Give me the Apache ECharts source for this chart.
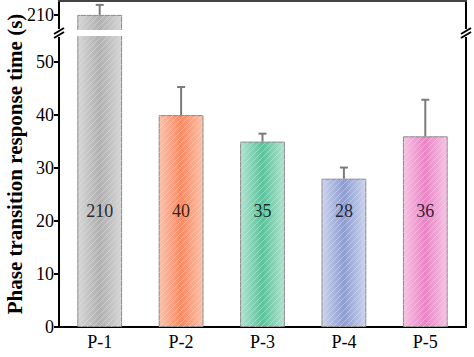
<!DOCTYPE html>
<html><head><meta charset="utf-8">
<script src="https://cdn.jsdelivr.net/npm/echarts@6/dist/echarts.min.js"></script>
<style>html,body{margin:0;padding:0;background:#fff}#c{width:474px;height:357px}</style>
</head><body><div id="c"></div>
<script>
// ---- data ----
const categories = ['P-1', 'P-2', 'P-3', 'P-4', 'P-5'];
const values = [210, 40, 35, 28, 36];
const errors = [3.6, 5.3, 1.5, 2.1, 6.9];
const valueLabels = ['210', '40', '35', '28', '36'];
const lowerTicks = [0, 10, 20, 30, 40, 50];
const upperTicks = [210];
const lowerRange = [0, 55.5];
const upperRange = [203.5, 215];
const labelLevel = 21.9;
const edgeColors = ['#d6d6d6', '#f9c2ab', '#b2e2d0', '#ccd3ec', '#f4c4e3'];
const centerColors = ['#b0b0b0', '#f98a62', '#5cc29c', '#8e9dd0', '#e985c6'];

const FONT = "'Liberation Serif', 'Times New Roman', serif";
const chart = echarts.init(document.getElementById('c'), null, {renderer: 'svg'});

// hatch tile: "/" lines
const tile = document.createElement('canvas');
tile.width = 6; tile.height = 6;
(function () {
  const g = tile.getContext('2d');
  g.strokeStyle = 'rgba(225,225,225,0.5)';
  g.lineWidth = 1;
  g.beginPath();
  g.moveTo(-1, 7); g.lineTo(7, -1);
  g.moveTo(-4, 4); g.lineTo(4, -4);
  g.moveTo(2, 10); g.lineTo(10, 2);
  g.stroke();
})();
const hatchFill = {image: tile, repeat: 'repeat'};

function barItems(filterFn) {
  return values.map((v, i) => filterFn(v) ? {
    value: v,
    itemStyle: {
      color: new echarts.graphic.LinearGradient(0, 0, 1, 0, [
        {offset: 0, color: edgeColors[i]},
        {offset: 0.5, color: centerColors[i]},
        {offset: 1, color: edgeColors[i]}
      ]),
      borderColor: '#8a8a8a', borderWidth: 1
    }
  } : '-');
}
function hatchItems(filterFn) {
  return values.map(v => filterFn(v) ? v : '-');
}
const inLower = v => true;
const inUpper = v => v > lowerRange[1];

function barPair(idx, filterFn) {
  return [
    {type: 'bar', xAxisIndex: idx, yAxisIndex: idx, barWidth: '55%', barGap: '-100%', clip: true,
     data: barItems(filterFn)},
    {type: 'bar', xAxisIndex: idx, yAxisIndex: idx, barWidth: '55%', barGap: '-100%', clip: true,
     itemStyle: {color: hatchFill, borderWidth: 0}, data: hatchItems(filterFn), z: 2.5}
  ];
}

function errData(filterFn) {
  return values.map((v, i) => [i, v, v + errors[i]]).filter(d => filterFn(d[1]));
}
function renderErr(params, api) {
  const x = api.value(0);
  const p0 = api.coord([x, api.value(1)]);
  const p1 = api.coord([x, api.value(2)]);
  const st = {stroke: '#7a7a7a', lineWidth: 2, fill: null};
  return {type: 'group', children: [
    {type: 'line', shape: {x1: p0[0], y1: p0[1], x2: p1[0], y2: p1[1]}, style: st},
    {type: 'line', shape: {x1: p1[0] - 4, y1: p1[1], x2: p1[0] + 4, y2: p1[1]}, style: st}
  ]};
}

const axisLabelStyle = {fontFamily: FONT, fontSize: 18, color: '#000'};

function breakMark(x, y) {
  const mk = dy => ({type: 'line', shape: {x1: x - 5, y1: y + dy + 3, x2: x + 5, y2: y + dy - 3},
    style: {stroke: '#000', lineWidth: 2}, z: 100});
  return [{type: 'rect', shape: {x: x - 6, y: y - 4, width: 12, height: 8}, style: {fill: '#fff'}, z: 99},
          mk(-2), mk(2)];
}

chart.setOption({
  animation: false,
  grid: [
    {left: 59, right: 8, top: 1, height: 32},
    {left: 59, right: 8, top: 33, bottom: 30}
  ],
  xAxis: [
    {gridIndex: 0, type: 'category', data: categories, position: 'top',
     axisLine: {show: true, lineStyle: {color: '#444', width: 2}},
     axisTick: {show: false}, axisLabel: {show: false}, splitLine: {show: false}},
    {gridIndex: 1, type: 'category', data: categories, position: 'bottom',
     axisLine: {show: true, lineStyle: {color: '#000', width: 2}},
     axisTick: {show: true, inside: true, alignWithLabel: true, length: 5, lineStyle: {color: '#000', width: 2}},
     axisLabel: Object.assign({margin: 6}, axisLabelStyle), splitLine: {show: false}}
  ],
  yAxis: [
    {gridIndex: 0, type: 'value', min: upperRange[0], max: upperRange[1],
     axisLine: {show: true, lineStyle: {color: '#000', width: 2}},
     axisTick: {show: true, length: 5, customValues: upperTicks, lineStyle: {color: '#000', width: 2}},
     axisLabel: Object.assign({customValues: upperTicks, margin: 5}, axisLabelStyle),
     splitLine: {show: false}},
    {gridIndex: 1, type: 'value', min: lowerRange[0], max: lowerRange[1],
     axisLine: {show: true, lineStyle: {color: '#000', width: 2}},
     axisTick: {show: true, length: 5, customValues: lowerTicks, lineStyle: {color: '#000', width: 2}},
     axisLabel: Object.assign({customValues: lowerTicks, margin: 5}, axisLabelStyle),
     splitLine: {show: false}},
    {gridIndex: 0, type: 'value', position: 'right', min: upperRange[0], max: upperRange[1],
     axisLine: {show: true, lineStyle: {color: '#000', width: 2}},
     axisTick: {show: false}, axisLabel: {show: false}, splitLine: {show: false}},
    {gridIndex: 1, type: 'value', position: 'right', min: lowerRange[0], max: lowerRange[1],
     axisLine: {show: true, lineStyle: {color: '#000', width: 2}},
     axisTick: {show: false}, axisLabel: {show: false}, splitLine: {show: false}}
  ],
  series: [
    ...barPair(0, inUpper),
    ...barPair(1, inLower),
    {type: 'custom', xAxisIndex: 0, yAxisIndex: 0, renderItem: renderErr, data: errData(inUpper), z: 3},
    {type: 'custom', xAxisIndex: 1, yAxisIndex: 1, renderItem: renderErr,
     data: errData(v => v <= lowerRange[1]), z: 3},
    {type: 'scatter', xAxisIndex: 1, yAxisIndex: 1, symbolSize: 0, z: 5,
     data: valueLabels.map((t, i) => ({value: [i, labelLevel], name: t})),
     label: {show: true, position: 'inside', formatter: p => p.name,
             fontFamily: FONT, fontSize: 18, color: '#000'}}
  ],
  graphic: [
    {type: 'rect', shape: {x: 60, y: 30, width: 405, height: 6}, style: {fill: '#fff'}, z: 50},
    ...breakMark(59, 33), ...breakMark(466, 33),
    {type: 'text', x: 15, y: 164, rotation: Math.PI / 2,
     style: {text: 'Phase transition response time (s)', fontFamily: FONT, fontSize: 21,
             fontWeight: 'bold', fill: '#000', align: 'center', verticalAlign: 'middle'}}
  ]
});
</script></body></html>
